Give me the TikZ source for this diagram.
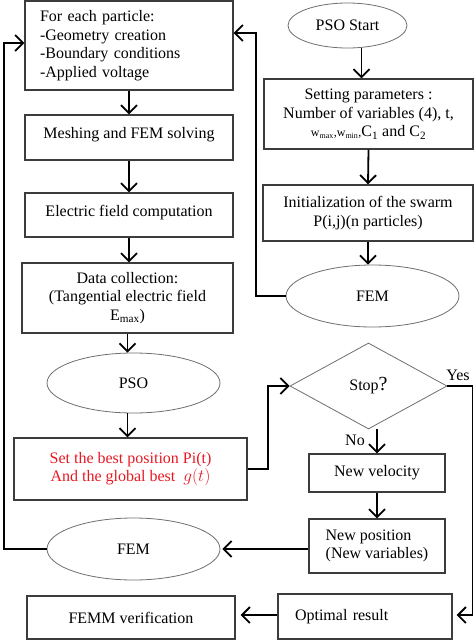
\documentclass[tikz,border=0pt]{standalone}
\usepackage{fontspec}
\setmainfont{Liberation Serif}
\newfontfamily\tnr{Liberation Serif}
\usetikzlibrary{shapes.geometric,arrows.meta}
\definecolor{boxgray}{RGB}{60,60,60}
\definecolor{ovalgray}{RGB}{110,110,110}
\definecolor{redtext}{RGB}{230,25,35}
\newcommand{\fs}{\tnr\fontsize{16}{18.5}\selectfont}
\begin{document}
\begin{tikzpicture}[x=1pt,y=-1pt,
  box/.style={draw=boxgray, line width=1.4pt, rectangle, inner sep=0pt, align=center, font=\fs},
  oval/.style={ellipse, draw=ovalgray, line width=0.8pt, inner sep=0pt, font=\fs},
  arr/.style={line width=1.8pt, -{Straight Barb[length=8pt,width=16pt]}},
  lbl/.style={font=\fs, inner sep=0pt}]
\useasboundingbox (0,0) rectangle (474,640);

% left column
\node[box, minimum width=208pt, minimum height=89pt, text width=178pt, align=left] (box1) at (129,45.5)
  {For each particle:\\-Geometry creation\\-Boundary conditions\\-Applied voltage};
\node[box, minimum width=208pt, minimum height=45pt, text depth=10pt] (box2) at (129,137.5) {Meshing and FEM solving};
\node[box, minimum width=208pt, minimum height=44pt, text depth=8pt] (box3) at (129,215) {Electric field computation};
\node[box, minimum width=211pt, minimum height=70pt] (box4) at (127.5,298)
  {Data collection:\\(Tangential electric field\\E\textsubscript{max})};
\node[oval, minimum width=173pt, minimum height=60pt] (pso) at (133.5,383) {PSO};
\node[box, minimum width=233pt, minimum height=62pt, text=redtext] (red) at (130.5,469)
  {Set the best position Pi(t)\\And the global best \ $g(t)$};
\node[oval, minimum width=173pt, minimum height=62pt] (femL) at (133.5,549) {FEM};
\node[box, minimum width=208pt, minimum height=43pt] (femm) at (131,617.5) {FEMM verification};

% right column
\node[oval, minimum width=119pt, minimum height=45pt] (psostart) at (347.5,25.5) {PSO Start};
\node[box, minimum width=209pt, minimum height=70pt] (setting) at (368.5,114)
  {Setting parameters :\\Number of variables (4), t,\\{\fontsize{12}{14}\selectfont w\textsubscript{max},w\textsubscript{min},}C\textsubscript{1} and C\textsubscript{2}};
\node[box, minimum width=210pt, minimum height=56pt] (init) at (368,213)
  {Initialization of the swarm\\P(i,j)(n particles)};
\node[oval, minimum width=173pt, minimum height=62pt] (femR) at (372.5,296) {FEM};
\node[diamond, draw=ovalgray, line width=0.8pt, aspect=1.83, minimum width=157pt, minimum height=86pt, inner sep=0pt, font=\fs] (stop) at (368.5,386) {Stop{\fontsize{20}{20}\selectfont ?}};
\node[box, minimum width=136pt, minimum height=38pt] (newvel) at (377,473) {New velocity};
\node[box, minimum width=136pt, minimum height=54pt, align=left] (newpos) at (377,546)
  {New position\\(New variables)};
\node[box, minimum width=174pt, minimum height=45pt, text width=140pt, inner xsep=17pt, align=left] (optimal) at (365,616.5)
  {Optimal result};

\node[lbl] (yes) at (458,375) {Yes};
\node[lbl] (no) at (355,440) {No};

% connectors left column
\draw[arr] (box1.south) -- (box2.north);
\draw[arr] (box2.south) -- (box3.north);
\draw[arr] (box3.south) -- (box3.south |- box4.north);
\draw[arr] (box4.south) -- (box4.south |- pso.north);
\draw[arr] (box4.south |- pso.south) -- (box4.south |- red.north);

% right column
\draw[arr] ([xshift=14pt]psostart.south) -- ([xshift=14pt]psostart.south |- setting.north);
\draw[arr] (setting.south) -- (init.north);
\draw[arr] (init.south) -- (init.south |- femR.north);
\draw[arr] (femR.west) -- ++(-30,0) |- ([yshift=12.5pt]box1.east);
\draw[arr] (femL.west) -- ++(-43,0) |- ([yshift=2.5pt]box1.west);

\draw[arr] (red.east) -- ++(20,0) |- (stop.west);
\draw[arr] (newvel.north |- stop.south) -- (newvel.north);
\draw[arr] (newvel.south) -- (newpos.north);
\draw[arr, shorten >=2pt] (femL.east -| newpos.west) -- (femL.east);
\draw[arr, shorten >=4pt] (stop.east) -- ++(25,0) |- ([yshift=1.5pt]optimal.east);
\draw[arr, shorten >=5pt] ([yshift=1.5pt]optimal.west) -- ([yshift=1.5pt]optimal.west -| femm.east);
\end{tikzpicture}
\end{document}
